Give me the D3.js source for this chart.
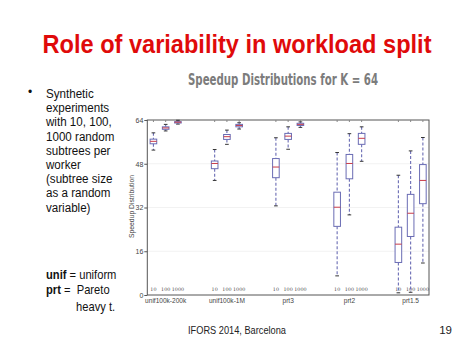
<!DOCTYPE html>
<html>
<head>
<meta charset="utf-8">
<script src="https://cdn.jsdelivr.net/npm/d3@7"></script>
<style>
  html, body { margin: 0; padding: 0; background: #fff; }
  svg { display: block; }
</style>
</head>
<body>
<div id="slide"></div>
<script>
// data
const groups = ["unif100k-200k", "unif100k-1M", "prt3", "prt2", "prt1.5"];
const sizes = ["10", "100", "1000"];
const whiskerLow  = [53.0, 60.0, 62.5,  41.9, 55.1, 60.7,  32.6, 53.3, 61.3,  7.0, 29.3, 48.9,  0.8, 1.0, 11.7];
const q1          = [55.3, 60.6, 62.9,  46.2, 56.9, 61.5,  42.9, 56.9, 62.0,  25.1, 42.5, 55.1,  11.9, 21.4, 33.4];
const median      = [56.2, 61.1, 63.2,  48.1, 57.9, 62.0,  46.8, 58.1, 62.4,  32.1, 48.1, 57.3,  18.6, 29.9, 41.9];
const q3          = [57.0, 61.5, 63.4,  49.0, 58.7, 62.4,  49.9, 59.1, 62.8,  37.6, 51.4, 59.1,  24.8, 36.8, 47.7];
const whiskerHigh = [59.3, 62.4, 63.9,  53.2, 60.3, 63.0,  57.5, 61.5, 63.3,  52.1, 59.0, 61.5,  43.8, 52.7, 57.6];
const yTicks = [0, 16, 32, 48, 64];

const bullets = ["Synthetic", "experiments", "with 10, 100,", "1000 random", "subtrees per",
                 "worker", "(subtree size", "as a random", "variable)"];

const W = 474, H = 355;
const sans = 'Liberation Sans, Arial, Helvetica, sans-serif';
const svg = d3.select('#slide').append('svg')
    .attr('width', W).attr('height', H);

// squeeze text horizontally around x (slide font is narrow)
function narrow(sel, x, f) {
    sel.attr('transform', `translate(${x},0) scale(${f},1) translate(${-x},0)`);
}

// slide title
svg.append('text')
    .attr('x', 237).attr('y', 53)
    .attr('text-anchor', 'middle')
    .attr('font-family', sans)
    .attr('font-weight', 'bold')
    .attr('font-size', 25)
    .attr('fill', '#e00a0a')
    .attr('textLength', 389)
    .attr('lengthAdjust', 'spacingAndGlyphs')
    .text('Role of variability in workload split');

// left text column
const leftCol = svg.append('g');
narrow(leftCol, 46, 0.86);

svg.append('text')
    .attr('x', 28).attr('y', 96)
    .attr('font-family', sans)
    .attr('font-size', 12).attr('fill', '#111')
    .text('•');

leftCol.selectAll('text.bul')
    .data(bullets)
    .enter()
    .append('text')
    .attr('class', 'bul')
    .attr('x', 46)
    .attr('y', (d, i) => 98 + i * 14.2)
    .attr('font-family', sans)
    .attr('font-size', 13.5)
    .attr('fill', '#111')
    .text(d => d);

const legendLines = [
    {bold: 'unif', rest: ' = uniform', x: 46, y: 279},
    {bold: 'prt', rest: ' =  Pareto', x: 46, y: 294},
    {bold: '', rest: 'heavy t.', x: 81, y: 311}
];
legendLines.forEach(l => {
    const t = leftCol.append('text')
        .attr('x', l.x).attr('y', l.y)
        .attr('font-family', sans)
        .attr('font-size', 13).attr('fill', '#111')
        .style('white-space', 'pre');
    if (l.bold) t.append('tspan').attr('font-weight', 'bold').text(l.bold);
    t.append('tspan').text(l.rest);
});

// footer
svg.append('text')
    .attr('x', 237).attr('y', 334)
    .attr('text-anchor', 'middle')
    .attr('font-family', sans)
    .attr('font-size', 11.5).attr('fill', '#222')
    .attr('textLength', 98)
    .attr('lengthAdjust', 'spacingAndGlyphs')
    .text('IFORS 2014, Barcelona');
svg.append('text')
    .attr('x', 452).attr('y', 334)
    .attr('text-anchor', 'end')
    .attr('font-family', sans)
    .attr('font-size', 11.5).attr('fill', '#222')
    .text('19');

// chart title
svg.append('text')
    .attr('x', 283).attr('y', 85)
    .attr('text-anchor', 'middle')
    .attr('font-family', 'DejaVu Sans Condensed, sans-serif')
    .attr('font-weight', 'bold')
    .attr('font-size', 16)
    .attr('fill', '#7c7c7c')
    .attr('textLength', 190)
    .attr('lengthAdjust', 'spacingAndGlyphs')
    .text('Speedup Distributions for K = 64');

// plot area
const plotLeft = 147.3, plotRight = 429, plotTop = 120, plotBottom = 295;

const xScale = d3.scaleLinear().domain([0.5, 23.5]).range([plotLeft, plotRight]);
const yScale = d3.scaleLinear().domain([0, 64]).range([plotBottom, plotTop]);

const boxes = median.map((m, i) => ({
    pos: Math.floor(i / 3) * 5 + (i % 3) + 1,
    size: sizes[i % 3],
    lo: whiskerLow[i], q1: q1[i], med: m, q3: q3[i], hi: whiskerHigh[i]
}));

// faint grid
svg.selectAll('line.grid')
    .data(yTicks.slice(1, -1))
    .enter()
    .append('line')
    .attr('class', 'grid')
    .attr('x1', plotLeft).attr('x2', plotRight)
    .attr('y1', d => yScale(d)).attr('y2', d => yScale(d))
    .attr('stroke', '#f2f2f2').attr('stroke-width', 1);

// y axis
const yAxis = d3.axisLeft(yScale).tickValues(yTicks).tickSize(3).tickPadding(1);
const gy = svg.append('g')
    .attr('transform', `translate(${plotLeft},0)`)
    .call(yAxis);
gy.select('.domain').remove();
gy.selectAll('text')
    .attr('font-family', sans)
    .attr('font-size', 7).attr('fill', '#444');
gy.selectAll('line').attr('stroke', '#555');

svg.append('text')
    .attr('transform', `translate(134,${(plotTop + plotBottom) / 2 - 1}) rotate(-90)`)
    .attr('text-anchor', 'middle')
    .attr('font-family', sans)
    .attr('font-size', 7).attr('fill', '#444')
    .attr('textLength', 63)
    .attr('lengthAdjust', 'spacingAndGlyphs')
    .text('Speedup Distribution');

// frame
svg.append('rect')
    .attr('x', plotLeft).attr('y', plotTop)
    .attr('width', plotRight - plotLeft).attr('height', plotBottom - plotTop)
    .attr('fill', 'none').attr('stroke', '#555').attr('stroke-width', 1);

// x tick labels (10 / 100 / 1000) and small ticks
svg.selectAll('text.sz')
    .data(boxes)
    .enter()
    .append('text')
    .attr('class', 'sz')
    .attr('x', d => xScale(d.pos))
    .attr('y', plotBottom - 4)
    .attr('text-anchor', 'middle')
    .attr('font-family', 'DejaVu Serif, serif')
    .attr('font-size', 4.8).attr('fill', '#444')
    .text(d => d.size);

svg.selectAll('line.tt')
    .data(boxes)
    .enter()
    .append('line')
    .attr('class', 'tt')
    .attr('x1', d => xScale(d.pos)).attr('x2', d => xScale(d.pos))
    .attr('y1', plotTop).attr('y2', plotTop + 2)
    .attr('stroke', '#888');

svg.selectAll('text.grp')
    .data(groups)
    .enter()
    .append('text')
    .attr('class', 'grp')
    .attr('x', (d, i) => xScale(i * 5 + 2))
    .attr('y', plotBottom + 8)
    .attr('text-anchor', 'middle')
    .attr('font-family', sans)
    .attr('font-size', 8).attr('fill', '#444')
    .each(function(d, i) { narrow(d3.select(this), xScale(i * 5 + 2), 0.82); })
    .text(d => d);

// boxplots
const boxColor = '#6a6cb4';
const medColor = '#c83c4a';
const bw = xScale(1.27) - xScale(1);
const cw = xScale(1.15) - xScale(1);

const g = svg.selectAll('g.box')
    .data(boxes)
    .enter()
    .append('g')
    .attr('class', 'box');

g.append('line')
    .attr('x1', d => xScale(d.pos)).attr('x2', d => xScale(d.pos))
    .attr('y1', d => yScale(d.hi)).attr('y2', d => yScale(d.q3))
    .attr('stroke', boxColor).attr('stroke-width', 1.1)
    .attr('stroke-dasharray', '3,2');
g.append('line')
    .attr('x1', d => xScale(d.pos)).attr('x2', d => xScale(d.pos))
    .attr('y1', d => yScale(d.q1)).attr('y2', d => yScale(d.lo))
    .attr('stroke', boxColor).attr('stroke-width', 1.1)
    .attr('stroke-dasharray', '3,2');

['hi', 'lo'].forEach(k => {
    g.append('line')
        .attr('x1', d => xScale(d.pos) - cw).attr('x2', d => xScale(d.pos) + cw)
        .attr('y1', d => yScale(d[k])).attr('y2', d => yScale(d[k]))
        .attr('stroke', '#333').attr('stroke-width', 1);
});

g.append('rect')
    .attr('x', d => xScale(d.pos) - bw)
    .attr('y', d => yScale(d.q3))
    .attr('width', 2 * bw)
    .attr('height', d => yScale(d.q1) - yScale(d.q3))
    .attr('fill', 'white')
    .attr('stroke', boxColor).attr('stroke-width', 1);

g.append('line')
    .attr('x1', d => xScale(d.pos) - bw).attr('x2', d => xScale(d.pos) + bw)
    .attr('y1', d => yScale(d.med)).attr('y2', d => yScale(d.med))
    .attr('stroke', medColor).attr('stroke-width', 1);
</script>
</body>
</html>
